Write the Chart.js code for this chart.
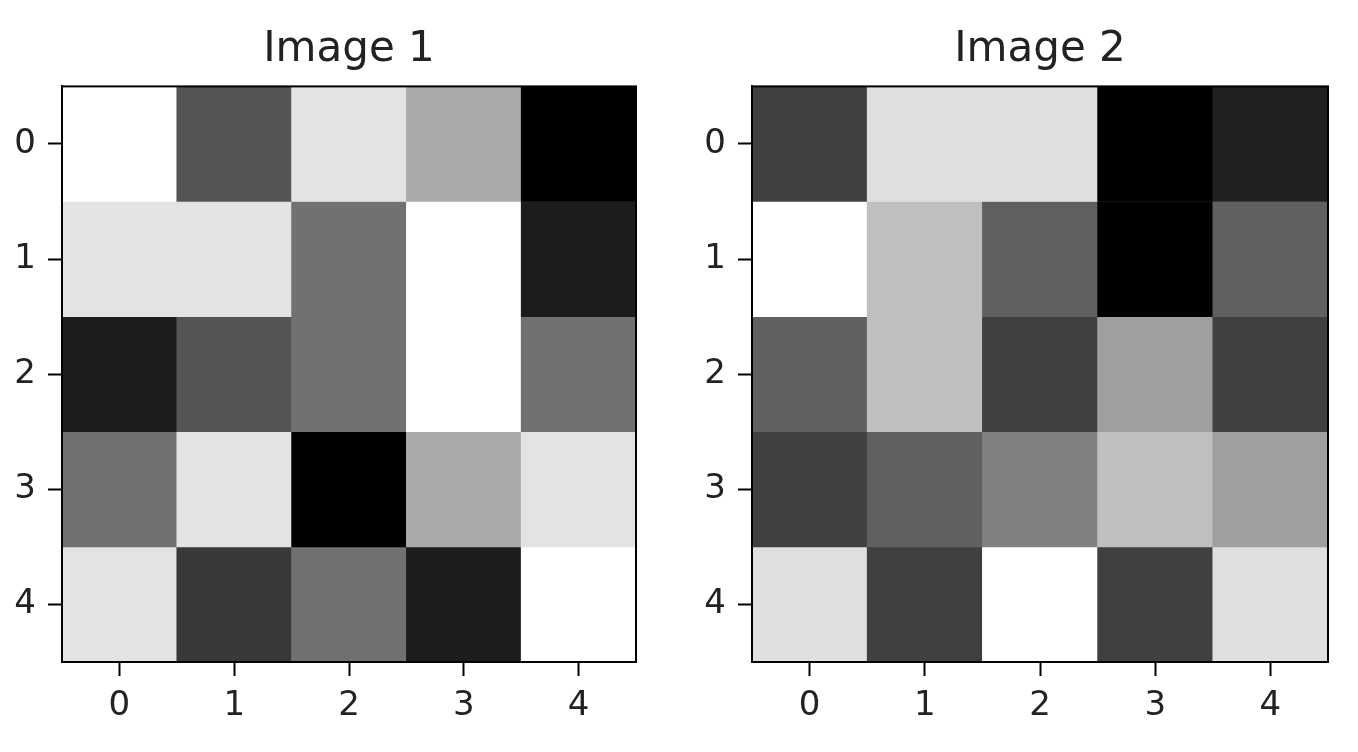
<!DOCTYPE html>
<html>
<head>
<meta charset="utf-8">
<script src="https://cdn.jsdelivr.net/npm/chart.js@4.4.1/dist/chart.umd.min.js"></script>
<style>
  html, body { margin: 0; padding: 0; background: #fff; overflow: hidden; }
  .box { position: absolute; top: 0; }
</style>
</head>
<body>
<div class="box" style="left:0px"><canvas id="c1" width="698" height="752"></canvas></div>
<div class="box" style="left:690px"><canvas id="c2" width="700" height="752"></canvas></div>
<script>
// 5x5 grey images (0 = black, max = white)
const cols = ['0', '1', '2', '3', '4'];
const rows = [0, 1, 2, 3, 4];
const image1 = [
  [9, 3, 8, 6, 0],
  [8, 8, 4, 9, 1],
  [1, 3, 4, 9, 4],
  [4, 8, 0, 6, 8],
  [8, 2, 4, 1, 9],
];
const image2 = [
  [2, 7, 7, 0, 1],
  [8, 6, 3, 0, 3],
  [3, 6, 2, 5, 2],
  [2, 3, 4, 6, 5],
  [7, 2, 8, 2, 7],
];
const titles = ['Image 1', 'Image 2'];

Chart.defaults.font.family = '"DejaVu Sans", sans-serif';
Chart.defaults.color = '#222';

function grey(v, lo, hi) {
  const g = Math.round((v - lo) / (hi - lo) * 255);
  return `rgb(${g},${g},${g})`;
}

// frame around the whole plot area (chart.js only draws left/bottom)
const frame = {
  id: 'frame',
  afterDraw(chart) {
    const a = chart.chartArea, ctx = chart.ctx;
    ctx.save();
    ctx.strokeStyle = '#000';
    ctx.lineWidth = 2;
    ctx.strokeRect(a.left, a.top, a.right - a.left, a.bottom - a.top);
    ctx.restore();
  }
};

function makeChart(id, img, title) {
  const flat = img.flat();
  const lo = Math.min(...flat), hi = Math.max(...flat);
  const datasets = rows.map(r => ({
    label: 'row ' + r,
    data: cols.map(() => [r - 0.5, r + 0.5]),
    backgroundColor: img[r].map(v => grey(v, lo, hi)),
    borderWidth: 0,
    barPercentage: 1,
    categoryPercentage: 1,
    grouped: false,
  }));

  return new Chart(document.getElementById(id), {
    type: 'bar',
    data: { labels: cols, datasets: datasets },
    options: {
      responsive: false,
      animation: false,
      layout: { padding: 0 },
      plugins: {
        legend: { display: false },
        tooltip: { enabled: false },
        title: {
          display: true,
          text: title,
          color: '#222',
          font: { size: 42, weight: 'normal' },
          padding: { top: 25, bottom: 11 },
        },
      },
      scales: {
        x: {
          type: 'category',
          offset: true,
          grid: { display: true, offset: false, drawOnChartArea: false, tickLength: 14, tickColor: '#000', tickWidth: 2 },
          border: { display: true, color: '#000', width: 2 },
          ticks: { font: { size: 34 }, color: '#222', padding: 10, maxRotation: 0 },
          afterFit: s => { s.height = 90; },
        },
        y: {
          type: 'linear',
          reverse: true,
          min: -0.5,
          max: 4.5,
          afterBuildTicks: s => { s.ticks = rows.map(v => ({ value: v })); },
          grid: { display: true, drawOnChartArea: false, tickLength: 14, tickColor: '#000', tickWidth: 2 },
          border: { display: true, color: '#000', width: 2 },
          ticks: { font: { size: 34 }, color: '#222', padding: 12 },
          afterFit: s => { s.width = 62; },
        },
        // empty right-hand axis so the plot is centred under its title
        y2: {
          type: 'linear',
          position: 'right',
          display: true,
          grid: { display: false },
          border: { display: false },
          ticks: { display: false },
          afterFit: s => { s.width = 62; },
        },
      },
    },
    plugins: [frame],
  });
}

makeChart('c1', image1, titles[0]);
makeChart('c2', image2, titles[1]);
</script>
</body>
</html>
